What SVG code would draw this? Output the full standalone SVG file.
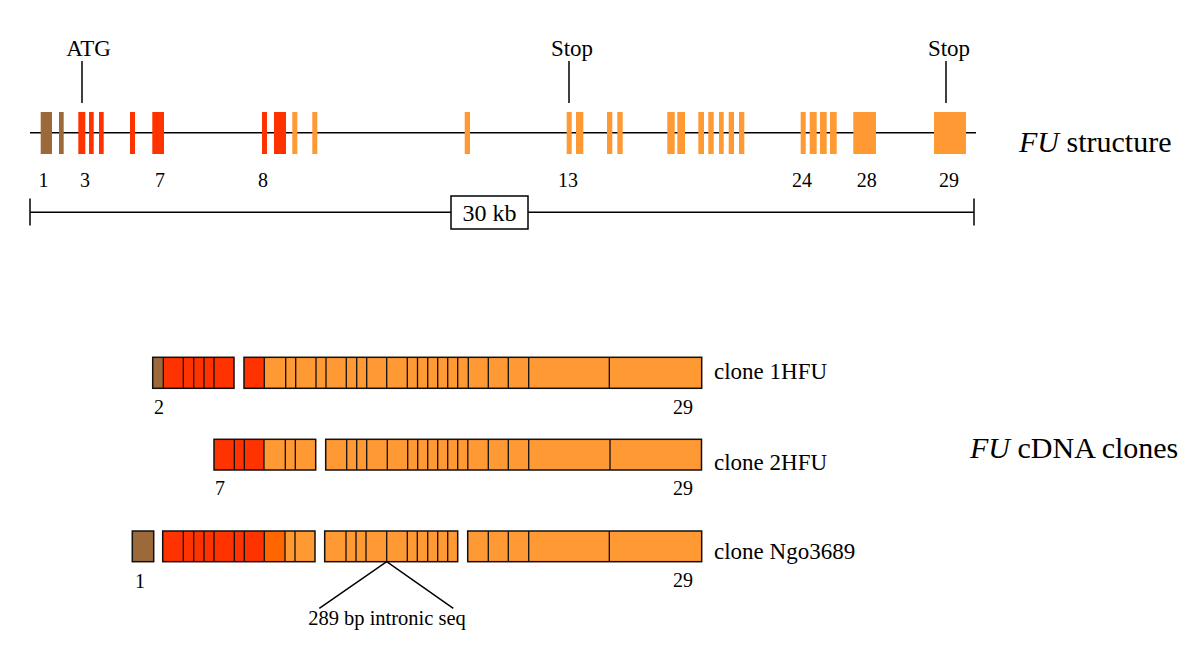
<svg xmlns="http://www.w3.org/2000/svg" width="1200" height="672" viewBox="0 0 1200 672">
<style>
  text { font-family: "Liberation Serif", "Times New Roman", serif; fill: #000; }
  .num { font-size: 20px; text-anchor: middle; }
  .lbl { font-size: 23px; text-anchor: middle; }
  .clone { font-size: 23px; }
  .title { font-size: 30px; }
  .ln { stroke: #000; stroke-width: 1.5; fill: none; }
  .br { fill: #9C6A3A; }
  .rd { fill: #FF3300; }
  .mo { fill: #FF6600; }
  .or { fill: #FF9933; }
  .ol { fill: none; stroke: #111; stroke-width: 1.5; }
  .dv { stroke: #111; stroke-width: 1.3; }
</style>
<rect width="1200" height="672" fill="#fff"/>

<g id="gene-structure">
  <line class="ln" x1="30" y1="132.7" x2="976" y2="132.7"/>
  <g id="exons">
    <rect class="br" x="40.7" y="112" width="11.3" height="42"/>
    <rect class="br" x="59" y="112" width="4.7" height="42"/>
    <rect class="rd" x="78.3" y="112" width="7" height="42"/>
    <rect class="rd" x="89" y="112" width="4.7" height="42"/>
    <rect class="rd" x="99" y="112" width="4.7" height="42"/>
    <rect class="rd" x="130" y="112" width="5" height="42"/>
    <rect class="rd" x="152.3" y="112" width="11.7" height="42"/>
    <rect class="rd" x="262" y="112" width="5" height="42"/>
    <rect class="rd" x="274" y="112" width="12" height="42"/>
    <rect class="or" x="292.3" y="112" width="5" height="42"/>
    <rect class="or" x="312.3" y="112" width="5" height="42"/>
    <rect class="or" x="464.7" y="112" width="5.3" height="42"/>
    <rect class="or" x="566.7" y="112" width="5" height="42"/>
    <rect class="or" x="576" y="112" width="7.3" height="42"/>
    <rect class="or" x="607" y="112" width="5.3" height="42"/>
    <rect class="or" x="617.3" y="112" width="5.4" height="42"/>
    <rect class="or" x="667.3" y="112" width="7.4" height="42"/>
    <rect class="or" x="677.3" y="112" width="7.7" height="42"/>
    <rect class="or" x="698.3" y="112" width="5.7" height="42"/>
    <rect class="or" x="708.3" y="112" width="5.4" height="42"/>
    <rect class="or" x="719" y="112" width="4.7" height="42"/>
    <rect class="or" x="728.7" y="112" width="5.3" height="42"/>
    <rect class="or" x="739" y="112" width="5.3" height="42"/>
    <rect class="or" x="800.7" y="112" width="5" height="42"/>
    <rect class="or" x="809.7" y="112" width="7" height="42"/>
    <rect class="or" x="820" y="112" width="6.7" height="42"/>
    <rect class="or" x="830" y="112" width="6.7" height="42"/>
    <rect class="or" x="853.3" y="112" width="22.7" height="42"/>
    <rect class="or" x="934" y="112" width="32" height="42"/>
  </g>
  <g id="markers">
    <text class="lbl" x="88.5" y="56">ATG</text>
    <line class="ln" x1="82" y1="61" x2="82" y2="103"/>
    <text class="lbl" x="572" y="56">Stop</text>
    <line class="ln" x1="569" y1="61" x2="569" y2="103"/>
    <text class="lbl" x="949" y="56">Stop</text>
    <line class="ln" x1="946" y1="61" x2="946" y2="103"/>
  </g>
  <g id="exon-numbers">
    <text class="num" x="43.5" y="187">1</text>
    <text class="num" x="85" y="187">3</text>
    <text class="num" x="160" y="187">7</text>
    <text class="num" x="263" y="187">8</text>
    <text class="num" x="568" y="187">13</text>
    <text class="num" x="802" y="187">24</text>
    <text class="num" x="866.7" y="187">28</text>
    <text class="num" x="949" y="187">29</text>
  </g>
  <text class="title" x="1019" y="151.7"><tspan font-style="italic">FU</tspan> structure</text>
</g>

<g id="scale-bar">
  <line class="ln" x1="30" y1="212.3" x2="974" y2="212.3"/>
  <line class="ln" x1="30" y1="198.5" x2="30" y2="225.5"/>
  <line class="ln" x1="974" y1="198.5" x2="974" y2="225.5"/>
  <rect x="451" y="196" width="77" height="33" fill="#fff" stroke="#000" stroke-width="1.5"/>
  <text x="489.5" y="221" font-size="24" text-anchor="middle">30 kb</text>
</g>

<g id="clone-1HFU">
  <rect class="br" x="152.7" y="357.3" width="10.6" height="31"/>
  <rect class="rd" x="163.3" y="357.3" width="70.7" height="31"/>
  <rect class="rd" x="244" y="357.3" width="20.3" height="31"/>
  <rect class="or" x="264.3" y="357.3" width="437.4" height="31"/>
  <g class="dv">
    <line x1="163.3" y1="357.3" x2="163.3" y2="388.3"/>
    <line x1="183.3" y1="357.3" x2="183.3" y2="388.3"/>
    <line x1="193.7" y1="357.3" x2="193.7" y2="388.3"/>
    <line x1="204" y1="357.3" x2="204" y2="388.3"/>
    <line x1="214" y1="357.3" x2="214" y2="388.3"/>
    <line x1="264.3" y1="357.3" x2="264.3" y2="388.3"/>
    <line x1="285.7" y1="357.3" x2="285.7" y2="388.3"/>
    <line x1="295.7" y1="357.3" x2="295.7" y2="388.3"/>
    <line x1="316" y1="357.3" x2="316" y2="388.3"/>
    <line x1="326" y1="357.3" x2="326" y2="388.3"/>
    <line x1="346.3" y1="357.3" x2="346.3" y2="388.3"/>
    <line x1="356.7" y1="357.3" x2="356.7" y2="388.3"/>
    <line x1="366.7" y1="357.3" x2="366.7" y2="388.3"/>
    <line x1="386.7" y1="357.3" x2="386.7" y2="388.3"/>
    <line x1="407.3" y1="357.3" x2="407.3" y2="388.3"/>
    <line x1="417.5" y1="357.3" x2="417.5" y2="388.3"/>
    <line x1="427.7" y1="357.3" x2="427.7" y2="388.3"/>
    <line x1="437.7" y1="357.3" x2="437.7" y2="388.3"/>
    <line x1="447.7" y1="357.3" x2="447.7" y2="388.3"/>
    <line x1="457.7" y1="357.3" x2="457.7" y2="388.3"/>
    <line x1="468.3" y1="357.3" x2="468.3" y2="388.3"/>
    <line x1="488.3" y1="357.3" x2="488.3" y2="388.3"/>
    <line x1="508.3" y1="357.3" x2="508.3" y2="388.3"/>
    <line x1="528.7" y1="357.3" x2="528.7" y2="388.3"/>
    <line x1="609.3" y1="357.3" x2="609.3" y2="388.3"/>
  </g>
  <rect class="ol" x="152.7" y="357.3" width="81.3" height="31"/>
  <rect class="ol" x="244" y="357.3" width="457.7" height="31"/>
  <text class="num" x="159" y="414">2</text>
  <text class="num" x="683" y="414">29</text>
  <text class="clone" x="714" y="378.5">clone 1HFU</text>
</g>

<g id="clone-2HFU">
  <rect class="rd" x="214" y="439.3" width="50" height="30.7"/>
  <rect class="or" x="264" y="439.3" width="51.7" height="30.7"/>
  <rect class="or" x="325.7" y="439.3" width="375.8" height="30.7"/>
  <g class="dv">
    <line x1="234.3" y1="439.3" x2="234.3" y2="470"/>
    <line x1="244.3" y1="439.3" x2="244.3" y2="470"/>
    <line x1="264" y1="439.3" x2="264" y2="470"/>
    <line x1="285.3" y1="439.3" x2="285.3" y2="470"/>
    <line x1="295.3" y1="439.3" x2="295.3" y2="470"/>
    <line x1="346.7" y1="439.3" x2="346.7" y2="470"/>
    <line x1="356.7" y1="439.3" x2="356.7" y2="470"/>
    <line x1="366.7" y1="439.3" x2="366.7" y2="470"/>
    <line x1="387.3" y1="439.3" x2="387.3" y2="470"/>
    <line x1="407.7" y1="439.3" x2="407.7" y2="470"/>
    <line x1="417.7" y1="439.3" x2="417.7" y2="470"/>
    <line x1="427.7" y1="439.3" x2="427.7" y2="470"/>
    <line x1="437.7" y1="439.3" x2="437.7" y2="470"/>
    <line x1="447.7" y1="439.3" x2="447.7" y2="470"/>
    <line x1="457.7" y1="439.3" x2="457.7" y2="470"/>
    <line x1="467.8" y1="439.3" x2="467.8" y2="470"/>
    <line x1="488.3" y1="439.3" x2="488.3" y2="470"/>
    <line x1="508.3" y1="439.3" x2="508.3" y2="470"/>
    <line x1="528.7" y1="439.3" x2="528.7" y2="470"/>
    <line x1="610" y1="439.3" x2="610" y2="470"/>
  </g>
  <rect class="ol" x="214" y="439.3" width="101.7" height="30.7"/>
  <rect class="ol" x="325.7" y="439.3" width="375.8" height="30.7"/>
  <text class="num" x="220" y="495">7</text>
  <text class="num" x="683" y="495">29</text>
  <text class="clone" x="714" y="470">clone 2HFU</text>
</g>

<g id="clone-Ngo3689">
  <rect class="br" x="132.3" y="531" width="21.4" height="30.7"/>
  <rect class="rd" x="162.7" y="531" width="101.6" height="30.7"/>
  <rect class="mo" x="264.3" y="531" width="20.7" height="30.7"/>
  <rect class="or" x="285" y="531" width="30" height="30.7"/>
  <rect class="or" x="324.7" y="531" width="133" height="30.7"/>
  <rect class="or" x="467.7" y="531" width="234" height="30.7"/>
  <g class="dv">
    <line x1="183.3" y1="531" x2="183.3" y2="561.7"/>
    <line x1="193.7" y1="531" x2="193.7" y2="561.7"/>
    <line x1="204" y1="531" x2="204" y2="561.7"/>
    <line x1="214" y1="531" x2="214" y2="561.7"/>
    <line x1="234.3" y1="531" x2="234.3" y2="561.7"/>
    <line x1="244.3" y1="531" x2="244.3" y2="561.7"/>
    <line x1="264.3" y1="531" x2="264.3" y2="561.7"/>
    <line x1="285" y1="531" x2="285" y2="561.7"/>
    <line x1="295" y1="531" x2="295" y2="561.7"/>
    <line x1="346" y1="531" x2="346" y2="561.7"/>
    <line x1="356" y1="531" x2="356" y2="561.7"/>
    <line x1="366" y1="531" x2="366" y2="561.7"/>
    <line x1="386.7" y1="531" x2="386.7" y2="561.7"/>
    <line x1="407.3" y1="531" x2="407.3" y2="561.7"/>
    <line x1="417.3" y1="531" x2="417.3" y2="561.7"/>
    <line x1="427.7" y1="531" x2="427.7" y2="561.7"/>
    <line x1="437.7" y1="531" x2="437.7" y2="561.7"/>
    <line x1="447.7" y1="531" x2="447.7" y2="561.7"/>
    <line x1="488.3" y1="531" x2="488.3" y2="561.7"/>
    <line x1="508.3" y1="531" x2="508.3" y2="561.7"/>
    <line x1="528.7" y1="531" x2="528.7" y2="561.7"/>
    <line x1="609.3" y1="531" x2="609.3" y2="561.7"/>
  </g>
  <rect class="ol" x="132.3" y="531" width="21.4" height="30.7"/>
  <rect class="ol" x="162.7" y="531" width="152.3" height="30.7"/>
  <rect class="ol" x="324.7" y="531" width="133" height="30.7"/>
  <rect class="ol" x="467.7" y="531" width="234" height="30.7"/>
  <text class="num" x="140" y="588">1</text>
  <text class="num" x="683" y="587">29</text>
  <text class="clone" x="714" y="559">clone Ngo3689</text>
</g>

<g id="connectors">
  <path class="ln" d="M319.3 608.3 L386.7 561.7 L453.3 608.3"/>
</g>
<text x="387" y="625" font-size="20.5" text-anchor="middle">289 bp intronic seq</text>

<text class="title" x="970" y="458.3"><tspan font-style="italic">FU</tspan> cDNA clones</text>
</svg>
